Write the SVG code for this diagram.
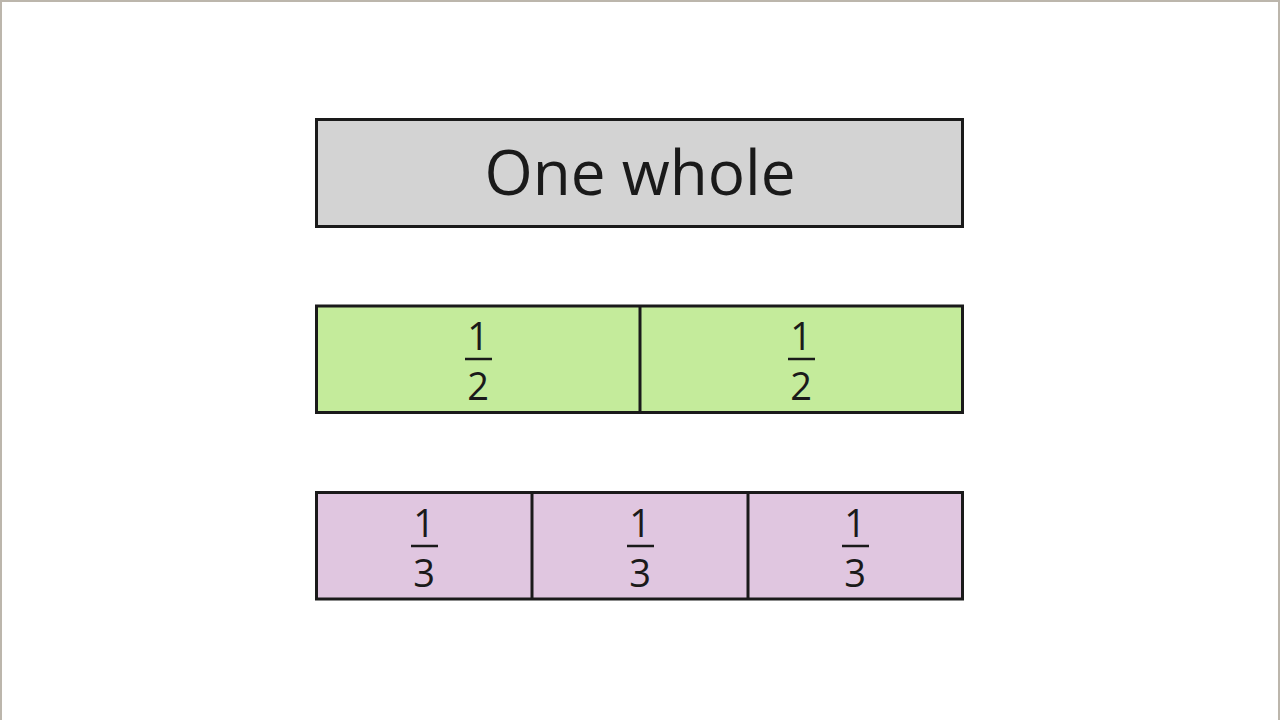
<svg xmlns="http://www.w3.org/2000/svg" width="1280" height="720" viewBox="0 0 1280 720">
<style>
.box{stroke:#1a1a1a;stroke-width:3}
.div{stroke:#1a1a1a;stroke-width:3}
.bar{stroke:#1a1a1a;stroke-width:2.5}
text{font-family:"Open Sans","Noto Sans",sans-serif;fill:#1a1a1a;text-anchor:middle}
.big{font-size:62px}
.frac{font-size:38px}
</style>
<rect x="0" y="0" width="1280" height="720" fill="#ffffff"/>
<path d="M1,720 V1 H1279 V720" fill="none" stroke="#bcb6ac" stroke-width="2"/>
<g id="whole">
<rect class="box" x="316.5" y="119.5" width="646" height="107" fill="#d3d3d3"/>
<text class="big" x="640" y="195">One whole</text>
</g>
<g id="halves">
<rect class="box" x="316.5" y="306" width="646" height="106.5" fill="#c4eb9b"/>
<g id="half1">
<text class="frac" x="478" y="350">1</text>
<line class="bar" x1="465" y1="359" x2="492" y2="359"/>
<text class="frac" x="478" y="400">2</text>
</g>
<g id="half2">
<text class="frac" x="801" y="350">1</text>
<line class="bar" x1="788" y1="359" x2="815" y2="359"/>
<text class="frac" x="801" y="400">2</text>
</g>
</g>
<g id="thirds">
<rect class="box" x="316.5" y="492.5" width="646" height="106.5" fill="#e0c6e0"/>
<g id="third1">
<text class="frac" x="424" y="537">1</text>
<line class="bar" x1="411" y1="546" x2="438" y2="546"/>
<text class="frac" x="424" y="587">3</text>
</g>
<g id="third2">
<text class="frac" x="640" y="537">1</text>
<line class="bar" x1="627" y1="546" x2="654" y2="546"/>
<text class="frac" x="640" y="587">3</text>
</g>
<g id="third3">
<text class="frac" x="855" y="537">1</text>
<line class="bar" x1="842" y1="546" x2="869" y2="546"/>
<text class="frac" x="855" y="587">3</text>
</g>
</g>
<g id="connectors">
<line class="div" x1="640" y1="306" x2="640" y2="412.5"/>
<line class="div" x1="532" y1="492.5" x2="532" y2="599"/>
<line class="div" x1="748" y1="492.5" x2="748" y2="599"/>
</g>
</svg>
